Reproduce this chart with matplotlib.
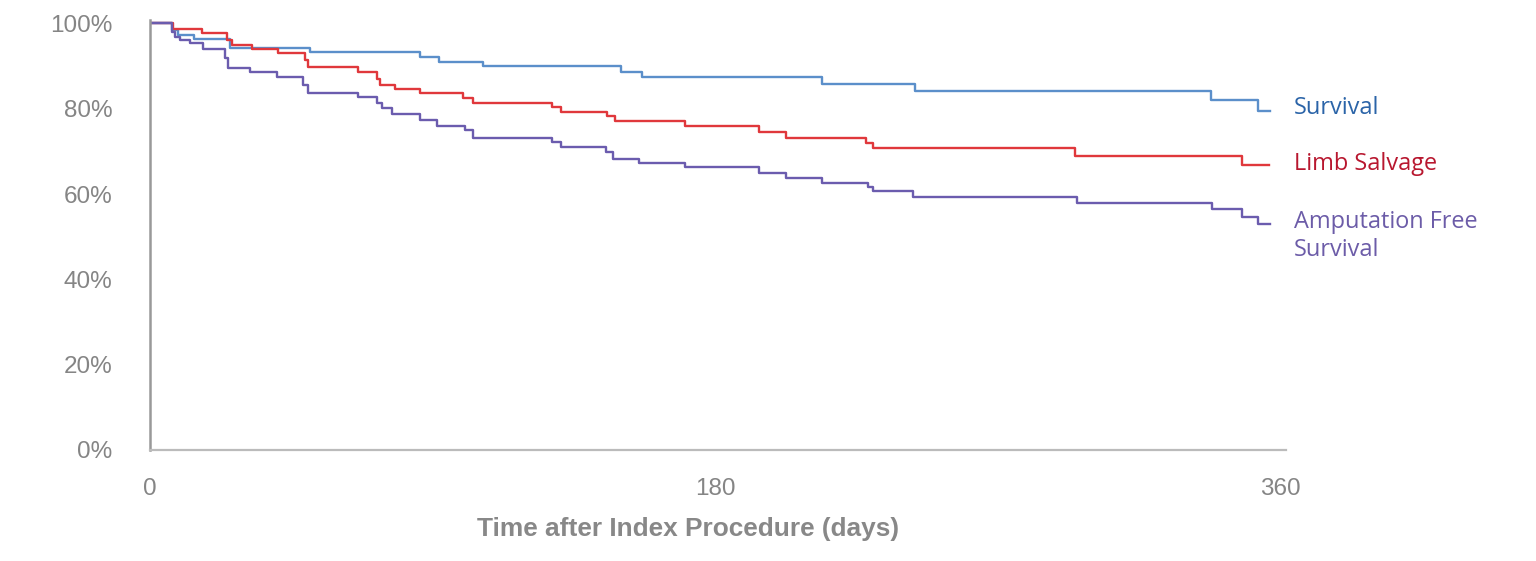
import matplotlib
matplotlib.use("Agg")
import matplotlib.pyplot as plt

# ---- data ----
surv_t = [0, 7, 9, 14, 25.5, 51, 86, 92, 106, 150, 156.7, 214, 243.7, 338, 353, 356.7]
surv_v = [100, 98.5, 97.3, 96.4, 94.3, 93.2, 92.2, 90.9, 89.9, 88.6, 87.4, 85.9, 84.2, 82.1, 79.5, 79.5]

limb_t = [0, 7.4, 16.6, 24.6, 26, 32.5, 40.8, 49.4, 50.3, 66.3, 72.3, 73.3, 78, 86, 99.7, 103,
          128, 131, 145.5, 148, 170.5, 194, 202.6, 228, 230.3, 294.7, 348, 356.5]
limb_v = [100, 98.7, 97.7, 96.1, 95.0, 94.0, 93.0, 91.4, 89.7, 88.7, 86.9, 85.6, 84.6, 83.6, 82.5, 81.3,
          80.4, 79.2, 78.2, 77.1, 76.0, 74.6, 73.2, 72.0, 70.9, 68.9, 66.8, 66.8]

afs_t = [0, 6.9, 7.9, 9.6, 12.7, 16.8, 23.9, 25, 31.9, 40.4, 48.8, 50.3, 66.3, 72.2, 74, 77.2, 86,
         91.3, 100.3, 103, 128, 131, 145.3, 147.5, 155.8, 170.5, 194, 202.6, 214, 228.7, 230.3,
         243, 295.3, 338.3, 347.8, 353, 356.8]
afs_v = [100, 98.1, 96.9, 96.1, 95.4, 94.0, 91.9, 89.5, 88.6, 87.5, 85.6, 83.6, 82.7, 81.4, 80.1, 78.8, 77.4,
         76.0, 75.0, 73.1, 72.1, 71.1, 69.9, 68.2, 67.2, 66.3, 65.0, 63.8, 62.7, 61.7, 60.6,
         59.4, 58.0, 56.4, 54.7, 53.0, 53.0]

x_ticks = [0, 180, 360]
y_ticks = [0, 20, 40, 60, 80, 100]
y_tick_labels = ["0%", "20%", "40%", "60%", "80%", "100%"]
series_labels = ["Survival", "Limb Salvage", "Amputation Free\nSurvival"]

W, H = 1536, 561
fig = plt.figure(figsize=(W / 100, H / 100), dpi=100)
ax = fig.add_axes([150 / W, (H - 450) / H, 1130 / W, 430 / H])
ax.set_xlim(0, 360)
ax.set_ylim(0, 100.8)

line_cols = ["#5b8fca", "#e0383c", "#6b5cae"]
text_cols = ["#2b64a8", "#b8172f", "#6c5ca8"]

ax.step(surv_t, surv_v, where="post", color=line_cols[0], lw=1.7)
ax.step(limb_t, limb_v, where="post", color=line_cols[1], lw=1.7)
ax.step(afs_t, afs_v, where="post", color=line_cols[2], lw=1.7)

for s in ["top", "right"]:
    ax.spines[s].set_visible(False)
ax.spines["left"].set_color("#999999")
ax.spines["left"].set_linewidth(1.8)
ax.spines["bottom"].set_color("#bbbbbb")
ax.spines["bottom"].set_linewidth(1.6)
ax.spines["bottom"].set_bounds(0, 362)

ax.set_xticks(x_ticks)
ax.set_xticklabels([str(v) for v in x_ticks])
ax.set_yticks(y_ticks)
ax.set_yticklabels(y_tick_labels)
ax.tick_params(axis="both", length=0, colors="#858585", labelsize=17.5)
ax.tick_params(axis="x", pad=20)
ax.tick_params(axis="y", pad=27)
for lab in ax.get_xticklabels() + ax.get_yticklabels():
    lab.set_fontfamily("Liberation Sans")

fig.text(688 / W, 1 - 529 / H, "Time after Index Procedure (days)", ha="center", va="center",
         fontsize=18.9, fontweight="bold", color="#888888", family="Liberation Sans")

label_y = [108, 164, 236]
for lab, yy, c in zip(series_labels, label_y, text_cols):
    fig.text(1294 / W, 1 - yy / H, lab, ha="left", va="center", fontsize=16.9,
             color=c, family="Open Sans", linespacing=1.2)

fig.savefig("out.png", dpi=100)
